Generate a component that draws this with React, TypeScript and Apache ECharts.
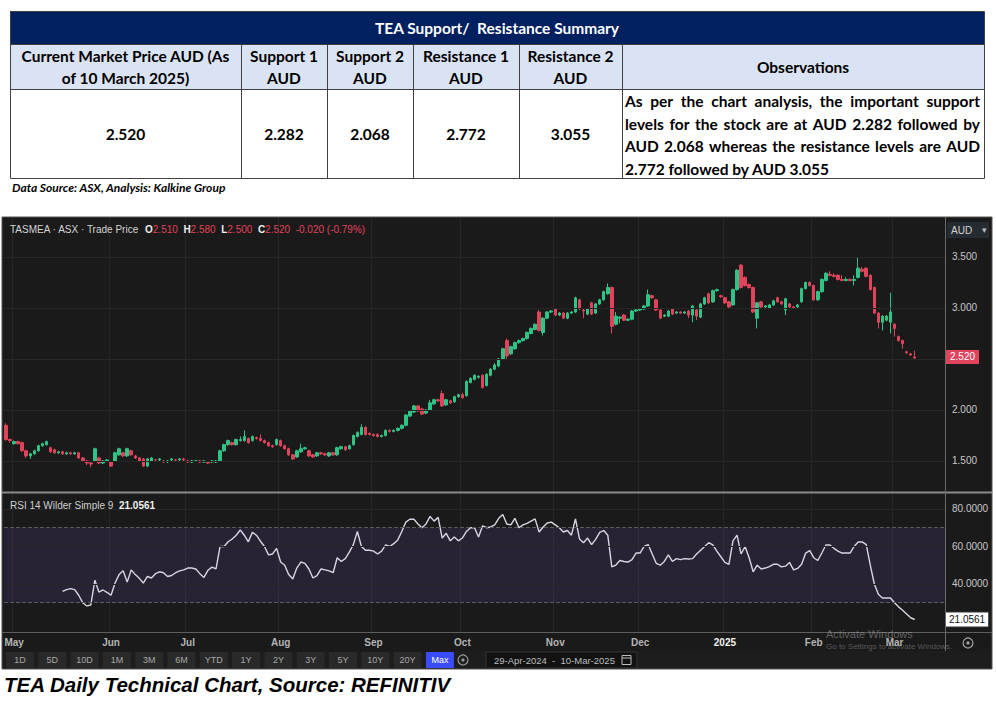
import React, { useEffect, useRef } from "react";
import * as echarts from "echarts";

// ---------------- DATA ----------------
const opens = [
  1.85,1.71,1.67,1.69,1.68,1.60,1.55,1.57,1.60,1.65,
  1.66,1.63,1.61,1.58,1.59,1.57,1.58,1.57,1.58,1.53,
  1.50,1.48,1.50,1.53,1.48,1.50,1.49,1.50,1.56,1.58,
  1.55,1.60,1.55,1.53,1.52,1.45,1.50,1.51,1.51,1.50,
  1.49,1.51,1.51,1.51,1.52,1.50,1.49,1.50,1.50,1.49,
  1.49,1.49,1.49,1.50,1.60,1.66,1.68,1.66,1.70,1.70,
  1.72,1.70,1.73,1.72,1.70,1.68,1.65,1.66,1.70,1.65,
  1.62,1.56,1.54,1.59,1.62,1.60,1.56,1.55,1.58,1.57,
  1.55,1.58,1.56,1.62,1.64,1.62,1.66,1.74,1.76,1.83,
  1.77,1.76,1.76,1.74,1.75,1.80,1.79,1.80,1.82,1.85,
  1.94,1.98,2.04,2.01,1.97,2.00,2.06,2.10,2.16,2.05,
  2.09,2.08,2.13,2.15,2.14,2.27,2.30,2.32,2.34,2.24,
  2.34,2.40,2.43,2.50,2.68,2.55,2.60,2.66,2.68,2.70,
  2.75,2.79,2.96,2.76,2.90,2.96,2.99,2.93,2.95,2.90,
  2.95,2.96,3.08,2.98,2.94,3.05,2.95,3.04,3.08,3.14,
  3.20,2.84,2.90,2.93,2.88,2.89,2.97,2.98,2.99,3.02,
  3.12,3.08,2.98,2.92,2.92,2.99,2.95,2.96,2.95,2.97,
  2.93,2.98,2.91,3.04,3.14,3.06,3.17,3.12,3.10,3.06,
  3.03,3.18,3.42,3.30,3.23,3.20,2.90,3.06,3.01,3.00,
  3.03,3.10,3.06,2.98,3.04,3.01,3.01,3.06,3.19,3.25,
  3.22,3.08,3.16,3.27,3.33,3.32,3.32,3.28,3.27,3.28,
  3.27,3.30,3.38,3.39,3.32,3.20,2.95,2.86,2.88,2.86,
  2.84,2.72,2.68,2.57,2.55,2.51,
];
const closes = [
  1.71,1.70,1.69,1.67,1.60,1.55,1.57,1.60,1.65,1.67,
  1.69,1.59,1.58,1.59,1.57,1.58,1.57,1.58,1.53,1.50,
  1.48,1.47,1.62,1.48,1.50,1.51,1.45,1.58,1.62,1.55,
  1.62,1.56,1.53,1.50,1.45,1.52,1.53,1.51,1.52,1.49,
  1.50,1.52,1.51,1.52,1.51,1.49,1.50,1.50,1.49,1.50,
  1.48,1.50,1.50,1.60,1.66,1.70,1.66,1.71,1.71,1.74,
  1.68,1.74,1.72,1.70,1.68,1.65,1.64,1.71,1.65,1.62,
  1.56,1.52,1.60,1.62,1.63,1.55,1.54,1.58,1.57,1.56,
  1.58,1.56,1.63,1.64,1.61,1.65,1.75,1.78,1.83,1.76,
  1.76,1.75,1.74,1.75,1.80,1.79,1.80,1.82,1.85,1.95,
  1.99,2.04,1.99,1.96,2.00,2.07,2.10,2.09,2.04,2.10,
  2.07,2.13,2.15,2.12,2.28,2.31,2.34,2.33,2.22,2.35,
  2.40,2.44,2.50,2.60,2.53,2.62,2.66,2.68,2.70,2.76,
  2.80,2.84,2.78,2.90,2.96,2.97,2.93,2.95,2.90,2.95,
  2.96,3.10,2.99,2.97,2.99,2.94,3.04,3.08,3.16,3.20,
  2.82,2.92,2.91,2.88,2.89,2.97,2.98,2.99,3.02,3.13,
  3.10,2.98,2.90,2.93,2.97,2.94,2.96,2.95,2.96,2.93,
  3.02,2.92,3.04,3.10,3.05,3.17,3.18,3.11,3.05,3.01,
  3.18,3.37,3.20,3.22,3.20,2.96,3.05,3.01,3.02,3.03,
  3.07,3.06,3.04,3.09,3.01,3.00,3.03,3.19,3.25,3.22,
  3.08,3.16,3.28,3.34,3.32,3.31,3.28,3.27,3.28,3.27,
  3.28,3.39,3.36,3.31,3.18,2.95,2.86,2.92,2.92,2.96,
  2.80,2.68,2.65,2.56,2.54,2.52,
];
const lows = [
  1.70,1.68,1.66,1.66,1.59,1.53,1.52,1.56,1.59,1.64,
  1.65,1.58,1.57,1.57,1.56,1.56,1.56,1.56,1.52,1.49,
  1.46,1.44,1.49,1.47,1.47,1.49,1.44,1.49,1.55,1.54,
  1.54,1.55,1.52,1.49,1.44,1.44,1.49,1.50,1.50,1.48,
  1.48,1.50,1.50,1.50,1.50,1.48,1.48,1.49,1.48,1.48,
  1.47,1.48,1.48,1.49,1.59,1.65,1.65,1.65,1.69,1.69,
  1.67,1.69,1.71,1.69,1.67,1.64,1.63,1.65,1.64,1.61,
  1.55,1.51,1.53,1.58,1.61,1.54,1.53,1.54,1.56,1.55,
  1.54,1.55,1.55,1.61,1.60,1.61,1.65,1.73,1.75,1.75,
  1.75,1.74,1.73,1.73,1.74,1.78,1.78,1.79,1.81,1.84,
  1.93,1.97,1.98,1.95,1.96,1.99,2.05,2.08,2.03,2.04,
  2.06,2.07,2.12,2.11,2.13,2.26,2.29,2.31,2.21,2.23,
  2.33,2.39,2.42,2.49,2.50,2.54,2.59,2.65,2.67,2.69,
  2.74,2.78,2.77,2.73,2.89,2.95,2.92,2.92,2.89,2.89,
  2.94,2.95,2.98,2.90,2.93,2.93,2.94,3.03,3.07,3.13,
  2.75,2.83,2.85,2.87,2.87,2.88,2.96,2.97,2.98,3.01,
  3.09,2.97,2.89,2.91,2.91,2.93,2.94,2.94,2.94,2.90,
  2.86,2.88,2.90,3.03,3.04,3.05,3.16,3.10,3.04,3.00,
  3.02,3.17,3.19,3.21,3.19,2.95,2.80,3.00,3.00,2.99,
  3.02,3.05,3.03,2.93,3.00,2.99,3.00,3.05,3.18,3.21,
  3.07,3.07,3.15,3.26,3.31,3.30,3.27,3.26,3.26,3.26,
  3.22,3.29,3.35,3.30,3.17,2.94,2.80,2.78,2.87,2.75,
  2.72,2.67,2.60,2.55,2.53,2.50,
];
const highs = [
  1.87,1.72,1.70,1.70,1.69,1.61,1.58,1.61,1.66,1.68,
  1.70,1.64,1.62,1.60,1.60,1.59,1.59,1.59,1.59,1.54,
  1.51,1.49,1.63,1.54,1.51,1.52,1.50,1.59,1.63,1.59,
  1.63,1.61,1.56,1.54,1.53,1.53,1.54,1.52,1.53,1.51,
  1.51,1.53,1.52,1.53,1.53,1.51,1.51,1.51,1.51,1.51,
  1.50,1.51,1.51,1.61,1.67,1.71,1.69,1.72,1.74,1.80,
  1.73,1.75,1.74,1.76,1.71,1.69,1.66,1.72,1.71,1.66,
  1.63,1.57,1.61,1.67,1.64,1.61,1.57,1.59,1.59,1.58,
  1.59,1.59,1.64,1.65,1.65,1.66,1.76,1.79,1.86,1.84,
  1.78,1.77,1.77,1.76,1.81,1.81,1.81,1.83,1.86,1.96,
  2.00,2.05,2.05,2.02,2.01,2.10,2.11,2.11,2.19,2.11,
  2.10,2.14,2.16,2.17,2.29,2.32,2.35,2.34,2.35,2.36,
  2.41,2.46,2.51,2.61,2.70,2.63,2.67,2.69,2.71,2.77,
  2.81,2.85,2.98,2.91,2.97,2.98,3.00,2.96,2.96,2.96,
  2.97,3.11,3.09,2.99,3.00,3.06,3.05,3.09,3.17,3.24,
  3.21,2.96,2.92,2.94,2.90,2.98,2.99,3.00,3.03,3.18,
  3.13,3.09,2.99,2.94,2.98,3.00,2.97,2.97,2.97,2.98,
  3.03,2.99,3.05,3.11,3.15,3.18,3.19,3.13,3.11,3.07,
  3.19,3.38,3.43,3.31,3.24,3.21,3.06,3.07,3.03,3.04,
  3.08,3.11,3.07,3.10,3.05,3.02,3.04,3.20,3.26,3.26,
  3.23,3.17,3.29,3.35,3.36,3.34,3.33,3.32,3.30,3.29,
  3.32,3.49,3.40,3.40,3.33,3.21,2.96,2.93,2.93,3.15,
  2.85,2.73,2.69,2.58,2.56,2.58,
];

const rsiStartIndex = 14;
const rsiValues = [
  36,37,37.5,37,34,30,28.3,28.8,42,35.7,
  36.8,35.5,34,40.5,45,47,41,47.5,45,43,
  40.5,44,43.2,45.5,46.5,46,44,44.5,46,47,
  47.5,48.5,48.5,48,45.5,43.5,47.3,49,48,60,
  60,62.5,64,66,68.8,66,62.5,67.5,66,62.8,
  60,55.5,56,59,51.7,50,45,42.7,48.5,51.7,
  51,48,43.2,44.5,48,47.5,47,46,54,52,
  53.5,57,61,68,60,58,58,57.5,56,57.5,
  60.8,60,61.5,63.5,68,73,74.5,74.5,72,70,
  72,76,73.5,75.5,64.5,67,63,65,63,64.5,
  68,70,70,65,71,70,70.4,71.5,75,77,
  72,71.5,75,70,71.5,72.3,73.5,74.7,67.7,70.4,
  72.5,73,71.5,70,67.7,68.5,66,74.7,64,62,
  64.5,61,63.8,67.5,68.5,66,49.1,50.1,52.5,52,
  51.7,53,56.5,56.5,60,61,56,51,50,52,
  55.5,52,53.5,53,53.5,53.3,53.5,56,58,60,
  62,60.8,57.5,54.5,51.5,50.5,63,66,56,60,
  54,46.5,50,48,48.5,49.3,50.5,50.5,49.1,49.5,
  51.5,47.5,48.3,50.5,56.5,57.8,54,52.5,56.5,60.8,
  60.8,59,57.5,56.5,56.5,56.5,60,62.4,62.4,61,
  50,40,34.5,32.5,32.5,32.5,30,27.8,26,24,
  22,21.0561,
];

const monthTickIndex = [2, 26, 45, 68, 91, 113, 136, 157, 178, 200, 220];
const monthTickLabel = ["May", "Jun", "Jul", "Aug", "Sep", "Oct", "Nov", "Dec", "2025", "Feb", "Mar"];
const priceTicks = [1.5, 2.0, 3.0, 3.5];
const priceGridLines = [1.5, 2.0, 2.5, 3.0, 3.5];
const rsiTicks = [40, 60, 80];
const rsiBand = [30, 70];
const lastPrice = 2.52;
const lastRsi = 21.0561;

const tableTitle = "TEA Support/  Resistance Summary";
const tableHeaders = [
  "Current Market Price AUD (As\nof 10 March 2025)",
  "Support 1\nAUD",
  "Support 2\nAUD",
  "Resistance 1\nAUD",
  "Resistance 2\nAUD",
  "Observations",
];
const tableValues = ["2.520", "2.282", "2.068", "2.772", "3.055"];
const observationLines = [
  "As per the chart analysis, the important support",
  "levels for the stock are at AUD 2.282 followed by",
  "AUD 2.068 whereas the resistance levels are AUD",
  "2.772 followed by AUD 3.055",
];
const rangeButtons = ["1D", "5D", "10D", "1M", "3M", "6M", "YTD", "1Y", "2Y", "3Y", "5Y", "10Y", "20Y", "Max"];

// ---------------- HELPERS ----------------
function buildDates(n: number): string[] {
  const out: string[] = [];
  const d = new Date(Date.UTC(2024, 3, 29));
  while (out.length < n) {
    const wd = d.getUTCDay();
    if (wd !== 0 && wd !== 6) out.push(d.toISOString().slice(0, 10));
    d.setUTCDate(d.getUTCDate() + 1);
  }
  return out;
}

let measureCtx: CanvasRenderingContext2D | null = null;
function measure(text: string, font: string): number {
  if (!measureCtx) measureCtx = document.createElement("canvas").getContext("2d");
  if (!measureCtx) return text.length * 7;
  measureCtx.font = font;
  return measureCtx.measureText(text).width;
}

const UP = "#2fc487";
const DOWN = "#e2435c";
const CF = '"Liberation Sans", Arial, sans-serif';
const TF = 'Lato, "Open Sans", sans-serif';
const TSIZE = 15.5;

function buildOption(): any {
  const N = closes.length;
  const PAD = 7;
  const cats = buildDates(N).concat(Array.from({ length: PAD }, (_, k) => "pad" + k));
  const isTick = (i: number) => monthTickIndex.indexOf(i) >= 0;

  const candleData = opens.map((o, i) => {
    const v = [o, closes[i], lows[i], highs[i]];
    if (i === N - 1) return { value: v, itemStyle: { color: DOWN, borderColor: DOWN, color0: DOWN, borderColor0: DOWN } };
    return v;
  });
  const rsiData = cats.map((_, i) => {
    const k = i - rsiStartIndex;
    return k >= 0 && k < rsiValues.length ? rsiValues[k] : null;
  });

  const g: any[] = [];
  // ---------- table ----------
  const colX = [10, 241, 327, 413, 519, 622, 984];
  const rowY = [11, 44, 89, 178];
  g.push({ type: "rect", shape: { x: colX[0], y: rowY[0], width: colX[6] - colX[0], height: rowY[1] - rowY[0] }, style: { fill: "#002060" } });
  g.push({ type: "rect", shape: { x: colX[0], y: rowY[1], width: colX[6] - colX[0], height: rowY[2] - rowY[1] }, style: { fill: "#dae3f3" } });
  g.push({ type: "rect", shape: { x: colX[0], y: rowY[2], width: colX[6] - colX[0], height: rowY[3] - rowY[2] }, style: { fill: "#ffffff" } });
  g.push({ type: "rect", shape: { x: colX[0] + 0.5, y: rowY[0] + 0.5, width: colX[6] - colX[0], height: rowY[3] - rowY[0] }, style: { fill: "none", stroke: "#404040", lineWidth: 1 } });
  [rowY[1], rowY[2]].forEach((y) =>
    g.push({ type: "line", shape: { x1: colX[0], y1: y + 0.5, x2: colX[6], y2: y + 0.5 }, style: { stroke: "#404040", lineWidth: 1 } })
  );
  colX.slice(1, 6).forEach((x) =>
    g.push({ type: "line", shape: { x1: x + 0.5, y1: rowY[1], x2: x + 0.5, y2: rowY[3] }, style: { stroke: "#404040", lineWidth: 1 } })
  );
  g.push({ type: "text", style: { text: tableTitle, x: 497, y: 28, fill: "#ffffff", fontFamily: TF, fontWeight: "bold", fontSize: TSIZE, align: "center", verticalAlign: "middle" } });
  tableHeaders.forEach((t, k) => {
    g.push({ type: "text", style: { text: t, x: (colX[k] + colX[k + 1]) / 2, y: 67, fill: "#000", fontFamily: TF, fontWeight: "bold", fontSize: TSIZE, lineHeight: 22, align: "center", verticalAlign: "middle" } });
  });
  tableValues.forEach((t, k) => {
    g.push({ type: "text", style: { text: t, x: (colX[k] + colX[k + 1]) / 2, y: 134, fill: "#000", fontFamily: TF, fontWeight: "bold", fontSize: TSIZE, align: "center", verticalAlign: "middle" } });
  });
  // justified observation text
  const obsLeft = 625, obsRight = 980;
  const obsFont = "bold " + TSIZE + "px Lato";
  observationLines.forEach((line, k) => {
    const y = 101 + k * 22.5;
    const isLast = k === observationLines.length - 1;
    const words = line.split(" ");
    const widths = words.map((w) => measure(w, obsFont));
    const total = widths.reduce((a, b) => a + b, 0);
    const natural = measure(line, obsFont);
    if (isLast || words.length < 2 || total > obsRight - obsLeft) {
      g.push({ type: "text", style: { text: line, x: obsLeft, y, fill: "#000", fontFamily: TF, fontWeight: "bold", fontSize: TSIZE, align: "left", verticalAlign: "middle" } });
      return;
    }
    const gap = natural > obsRight - obsLeft ? (natural - total) / (words.length - 1) : (obsRight - obsLeft - total) / (words.length - 1);
    let x = obsLeft;
    words.forEach((w, j) => {
      g.push({ type: "text", style: { text: w, x, y, fill: "#000", fontFamily: TF, fontWeight: "bold", fontSize: TSIZE, align: "left", verticalAlign: "middle" } });
      x += widths[j] + gap;
    });
  });
  g.push({ type: "text", style: { text: "Data Source: ASX, Analysis: Kalkine Group", x: 12, y: 187, fill: "#000", fontFamily: TF, fontWeight: "bold", fontStyle: "italic", fontSize: 12, align: "left", verticalAlign: "middle" } });

  // ---------- chart frame ----------
  g.push({ type: "rect", z: -100, silent: true, shape: { x: 2, y: 217, width: 990, height: 452 }, style: { fill: "#1a1a1a", stroke: "#555", lineWidth: 1 } });
  g.push({ type: "line", z: 100, shape: { x1: 2, y1: 492.5, x2: 992, y2: 492.5 }, style: { stroke: "#8a8a8a", lineWidth: 2 } });
  g.push({ type: "line", z: 100, shape: { x1: 2, y1: 632.5, x2: 992, y2: 632.5 }, style: { stroke: "#5e5e5e", lineWidth: 1 } });
  g.push({ type: "line", z: 100, shape: { x1: 945.5, y1: 217, x2: 945.5, y2: 651 }, style: { stroke: "#6a6a6a", lineWidth: 1 } });
  // AUD box
  g.push({ type: "rect", z: 100, shape: { x: 947, y: 222, width: 42, height: 16 }, style: { fill: "#262a31" } });
  g.push({ type: "text", z: 101, style: { text: "AUD", x: 951, y: 230, fill: "#d6d6d6", fontFamily: CF, fontSize: 10, verticalAlign: "middle" } });
  g.push({ type: "text", z: 101, style: { text: "▾", x: 982, y: 230, fill: "#bbbbbb", fontFamily: CF, fontSize: 9, verticalAlign: "middle" } });
  // legends
  g.push({
    type: "text", z: 101,
    style: {
      text: "{w|TASMEA · ASX · Trade Price}  {b|O}{r|2.510}  {b|H}{r|2.580}  {b|L}{r|2.500}  {b|C}{r|2.520}  {r|-0.020 (-0.79%)}",
      x: 10, y: 229, verticalAlign: "middle", fontFamily: CF, fontSize: 10,
      rich: {
        w: { fill: "#d4d4d4", fontSize: 10, fontFamily: CF },
        b: { fill: "#eeeeee", fontSize: 10, fontWeight: "bold", fontFamily: CF },
        r: { fill: DOWN, fontSize: 10, fontFamily: CF },
      },
    },
  });
  g.push({
    type: "text", z: 101,
    style: {
      text: "{w|RSI 14 Wilder Simple 9}  {b|21.0561}",
      x: 10, y: 505, verticalAlign: "middle", fontFamily: CF, fontSize: 10,
      rich: {
        w: { fill: "#cfcfcf", fontSize: 10, fontFamily: CF },
        b: { fill: "#f0f0f0", fontSize: 10, fontWeight: "bold", fontFamily: CF },
      },
    },
  });
  // toolbar
  g.push({ type: "rect", z: 100, shape: { x: 3, y: 651, width: 988, height: 17 }, style: { fill: "#1d1d1d" } });
  rangeButtons.forEach((t, k) => {
    const cx = 20 + k * 32.3;
    const isMax = t === "Max";
    g.push({ type: "rect", z: 101, shape: { x: cx - 14, y: 652, width: 28, height: 16 }, style: { fill: isMax ? "#3a4cf5" : "#292929" } });
    g.push({ type: "text", z: 102, style: { text: t, x: cx, y: 660, fill: isMax ? "#ffffff" : "#a8a8a8", fontFamily: CF, fontSize: 9, align: "center", verticalAlign: "middle" } });
  });
  g.push({ type: "circle", z: 102, shape: { cx: 463, cy: 660, r: 5 }, style: { fill: "none", stroke: "#9a9a9a", lineWidth: 1.2 } });
  g.push({ type: "circle", z: 102, shape: { cx: 463, cy: 660, r: 1.6 }, style: { fill: "#9a9a9a" } });
  g.push({ type: "rect", z: 101, shape: { x: 486, y: 652, width: 151, height: 16 }, style: { fill: "#121212", stroke: "#333", lineWidth: 1 } });
  g.push({ type: "text", z: 102, style: { text: "29-Apr-2024  -  10-Mar-2025", x: 494, y: 660, fill: "#bdbdbd", fontFamily: CF, fontSize: 9.5, verticalAlign: "middle" } });
  g.push({ type: "rect", z: 102, shape: { x: 622, y: 655.5, width: 9, height: 9 }, style: { fill: "none", stroke: "#bdbdbd", lineWidth: 1 } });
  g.push({ type: "line", z: 102, shape: { x1: 622, y1: 658, x2: 631, y2: 658 }, style: { stroke: "#bdbdbd", lineWidth: 1 } });
  // right gear
  g.push({ type: "circle", z: 102, shape: { cx: 968, cy: 643, r: 5 }, style: { fill: "none", stroke: "#a5a5a5", lineWidth: 1.2 } });
  g.push({ type: "circle", z: 102, shape: { cx: 968, cy: 643, r: 1.6 }, style: { fill: "#a5a5a5" } });
  // watermark
  g.push({ type: "text", z: 103, style: { text: "Activate Windows", x: 826, y: 634, fill: "rgba(190,190,190,0.45)", fontFamily: CF, fontSize: 11, verticalAlign: "middle" } });
  g.push({ type: "text", z: 103, style: { text: "Go to Settings to activate Windows.", x: 826, y: 646, fill: "rgba(190,190,190,0.4)", fontFamily: CF, fontSize: 8, verticalAlign: "middle" } });
  // caption
  g.push({ type: "text", style: { text: "TEA Daily Technical Chart, Source: REFINITIV", x: 4, y: 684, fill: "#000", fontFamily: CF, fontWeight: "bold", fontStyle: "italic", fontSize: 20.5, verticalAlign: "middle" } });

  const splitX = { show: true, interval: (i: number) => isTick(i), lineStyle: { color: "#262626", width: 1 } };

  return {
    animation: false,
    backgroundColor: "#ffffff",
    grid: [
      { left: 4, right: 51, top: 218, height: 274 },
      { left: 4, right: 51, top: 493, height: 139 },
    ],
    xAxis: [
      { type: "category", gridIndex: 0, data: cats, boundaryGap: true, axisLine: { show: false }, axisTick: { show: false }, axisLabel: { show: false }, splitLine: splitX },
      {
        type: "category", gridIndex: 1, data: cats, boundaryGap: true, axisLine: { show: false }, axisTick: { show: false }, splitLine: splitX,
        axisLabel: {
          show: true, interval: (i: number) => isTick(i), margin: 5,
          formatter: (_v: string, i: number) => {
            const k = monthTickIndex.indexOf(i);
            if (k < 0) return "";
            const t = monthTickLabel[k];
            return /^\d+$/.test(t) ? "{y|" + t + "}" : "{m|" + t + "}";
          },
          rich: {
            m: { color: "#b4b4b4", fontSize: 10, fontWeight: "bold", fontFamily: CF },
            y: { color: "#f2f2f2", fontSize: 10, fontWeight: "bold", fontFamily: CF },
          },
        },
      },
    ],
    yAxis: [
      {
        type: "value", gridIndex: 0, position: "right", min: 1.196, max: 3.882, scale: true,
        axisLine: { show: false }, axisTick: { show: false }, splitLine: { show: false },
        axisLabel: { customValues: priceTicks, formatter: (v: number) => v.toFixed(3), color: "#c8c8c8", fontSize: 10, margin: 7, fontFamily: CF },
      },
      {
        type: "value", gridIndex: 1, position: "right", min: 14.4, max: 88.5,
        axisLine: { show: false }, axisTick: { show: false }, splitLine: { show: false },
        axisLabel: { customValues: rsiTicks, formatter: (v: number) => v.toFixed(4), color: "#c8c8c8", fontSize: 10, margin: 7, fontFamily: CF },
      },
    ],
    series: [
      {
        type: "candlestick", xAxisIndex: 0, yAxisIndex: 0, data: candleData, barWidth: 3,
        itemStyle: { color: UP, color0: DOWN, borderColor: UP, borderColor0: DOWN, borderWidth: 1 },
        markLine: {
          silent: true, symbol: "none", animation: false,
          label: { show: false },
          lineStyle: { color: "#262626", type: "solid", width: 1 },
          data: [
            ...priceGridLines.map((v) => ({ yAxis: v })),
            {
              yAxis: lastPrice, lineStyle: { color: "rgba(0,0,0,0)" },
              label: { show: true, position: "end", distance: 1, formatter: lastPrice.toFixed(3), backgroundColor: DOWN, color: "#ffffff", padding: [2, 4, 2, 4], fontSize: 10, fontFamily: CF },
            },
          ],
        },
      },
      {
        type: "line", xAxisIndex: 1, yAxisIndex: 1, data: rsiData, showSymbol: false, symbol: "none",
        lineStyle: { color: "#d8d5e2", width: 1.4 },
        markArea: { silent: true, itemStyle: { color: "rgba(95,75,160,0.20)" }, data: [[{ yAxis: rsiBand[0] }, { yAxis: rsiBand[1] }]] },
        markLine: {
          silent: true, symbol: "none", animation: false,
          label: { show: false },
          lineStyle: { color: "#5a5a5a", type: "dashed", width: 1 },
          data: [
            ...rsiBand.map((v) => ({ yAxis: v })),
            ...rsiTicks.map((v) => ({ yAxis: v, lineStyle: { color: "#262626", type: "solid", width: 1 } })),
            {
              yAxis: lastRsi, lineStyle: { color: "rgba(0,0,0,0)" },
              label: { show: true, position: "end", distance: 1, formatter: lastRsi.toFixed(4), backgroundColor: "#ffffff", color: "#111111", borderColor: "#333", borderWidth: 1, padding: [2, 3, 2, 3], fontSize: 10, fontFamily: CF },
            },
          ],
        },
      },
    ],
    graphic: g,
  };
}

export default function App() {
  const ref = useRef<HTMLDivElement>(null);
  useEffect(() => {
    if (!ref.current) return;
    const chart = echarts.init(ref.current, null, { renderer: "svg" });
    chart.setOption(buildOption());
    return () => chart.dispose();
  }, []);
  return (
    <div
      ref={ref}
      style={{ position: "absolute", left: 0, top: 0, width: 996, height: 703, background: "#ffffff" }}
    />
  );
}
